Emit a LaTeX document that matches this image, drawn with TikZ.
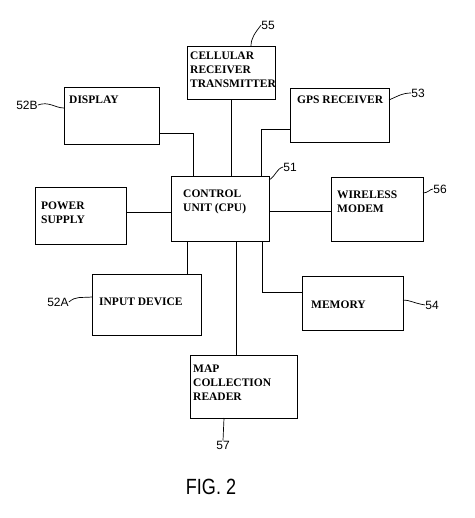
\documentclass[tikz,border=0pt]{standalone}
\usepackage{fontspec}
\setmainfont{Liberation Serif}
\newfontfamily\handfont{Liberation Sans}
\begin{document}
\begin{tikzpicture}[x=1pt,y=-1pt,
  blk/.style={draw, line width=0.9pt, inner sep=0pt, anchor=north west},
  txt/.style={anchor=base west, inner sep=0pt, font=\fontsize{11.5}{14}\selectfont\bfseries},
  num/.style={inner sep=0pt, font=\fontsize{12}{14}\selectfont\handfont},
  wire/.style={line width=0.9pt},
  lead/.style={line width=0.7pt}]
\useasboundingbox[fill=white] (0,0) rectangle (474,518);
% boxes
\node[blk, minimum width=88pt, minimum height=53pt] (cell) at (187,46) {};
\node[blk, minimum width=95pt, minimum height=57pt] (disp) at (64,87) {};
\node[blk, minimum width=99pt, minimum height=54pt] (gps) at (290,88) {};
\node[blk, minimum width=98pt, minimum height=65pt] (cpu) at (171,176) {};
\node[blk, minimum width=91pt, minimum height=57pt] (pow) at (35,187) {};
\node[blk, minimum width=92pt, minimum height=64pt] (wm) at (331,177) {};
\node[blk, minimum width=109pt, minimum height=61pt] (inp) at (92,274) {};
\node[blk, minimum width=101pt, minimum height=54pt] (mem) at (302,276) {};
\node[blk, minimum width=107pt, minimum height=63pt] (map) at (190,355) {};
% texts
\node[txt] (cellA) at (190,60) {CELLULAR};
\node[txt] (cellB) at (190,74) {RECEIVER};
\node[txt] (cellC) at (190,87.5) {TRANSMITTER};
\node[txt] (dispT) at (69,104) {DISPLAY};
\node[txt] (gpsT) at (297,104) {GPS RECEIVER};
\node[txt] (cpuA) at (183,198) {CONTROL};
\node[txt] (cpuB) at (183,212) {UNIT (CPU)};
\node[txt] (powA) at (41,210) {POWER};
\node[txt] (powB) at (41,224) {SUPPLY};
\node[txt] (wmA) at (337,199) {WIRELESS};
\node[txt] (wmB) at (337,213) {MODEM};
\node[txt] (inpT) at (99,305) {INPUT DEVICE};
\node[txt] (memT) at (311,308) {MEMORY};
\node[txt] (mapA) at (193,372) {MAP};
\node[txt] (mapB) at (193,386) {COLLECTION};
\node[txt] (mapC) at (193,400) {READER};
% connectors
\draw[wire] (cell.south) -- (cell.south |- cpu.north);
\draw[wire] ([yshift=-17.5pt]disp.east) -| ([xshift=-27pt]cpu.north);
\draw[wire] ([yshift=-14pt]gps.west) -| ([xshift=41pt]cpu.north);
\draw[wire] ([yshift=3.5pt]pow.east) -- ([yshift=3.5pt]pow.east -| cpu.west);
\draw[wire] ([yshift=-2pt]wm.west) -- ([yshift=-2pt]wm.west -| cpu.east);
\draw[wire] ([xshift=-33pt]cpu.south) -- ([xshift=-33pt]cpu.south |- inp.north);
\draw[wire] ([xshift=42pt]cpu.south) |- ([yshift=11pt]mem.west);
\draw[wire] ([xshift=-7.5pt]map.north) -- ([xshift=-7.5pt]map.north |- cpu.south);
% reference numerals
\node[num] (n55) at (268,25) {55};
\node[num] (n52b) at (27,105) {52B};
\node[num] (n53) at (418,93) {53};
\node[num] (n51) at (290,167) {51};
\node[num] (n56) at (440,189) {56};
\node[num] (n52a) at (58,302) {52A};
\node[num] (n54) at (432,305) {54};
\node[num] (n57) at (223,445) {57};
\node[inner sep=0pt, font=\fontsize{22}{24}\selectfont\handfont, xscale=0.82] (fig) at (211,487) {FIG. 2};
\coordinate (c55) at (251,46);
\coordinate (c52b) at (64,108);
\coordinate (c53) at (389,100);
\coordinate (c51) at (269,180);
\coordinate (c56) at (423,193);
\coordinate (c52a) at (92,297);
\coordinate (c54) at (403,300);
\coordinate (c57) at (224,418);
\draw[lead] (c55) .. controls (251,38) and (255,33) .. (n55.west);
\draw[lead] (n52b.east) .. controls (49,101) and (55,108) .. (c52b);
\draw[lead] (c53) .. controls (396,97) and (402,93) .. (n53.west);
\draw[lead] (c51) .. controls (276,176) and (276,169) .. (n51.west);
\draw[lead] (c56) .. controls (428,193) and (430,189) .. (n56.west);
\draw[lead] (n52a.east) .. controls (76,296) and (80,298) .. (c52a);
\draw[lead] (c54) .. controls (410,300) and (413,303) .. (n54.west);
\draw[lead] (c57) -- (n57.north);
\end{tikzpicture}
\end{document}
